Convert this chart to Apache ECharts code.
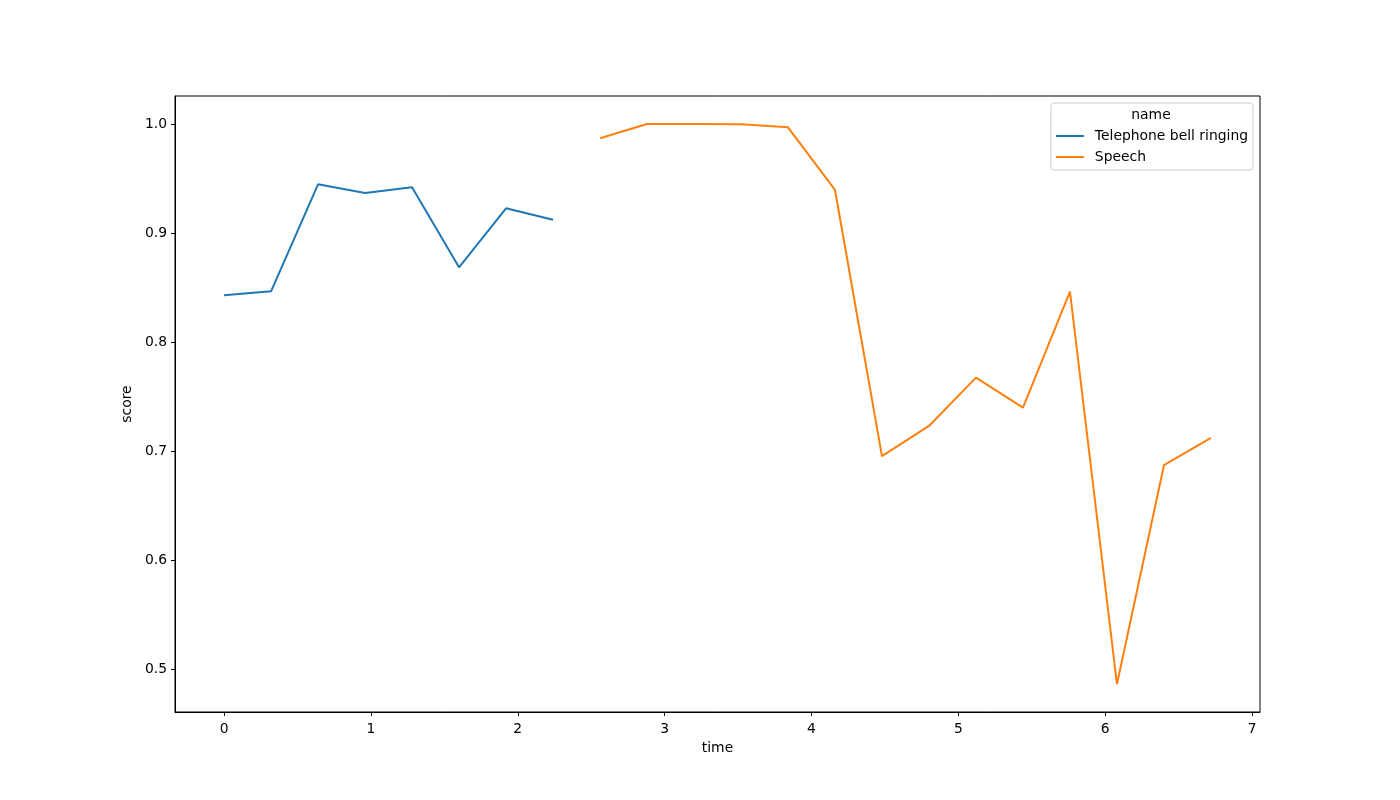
<!DOCTYPE html>
<html>
<head>
<meta charset="utf-8">
<script src="https://cdn.jsdelivr.net/npm/echarts@6/dist/echarts.min.js"></script>
<style>html,body{margin:0;padding:0;background:#fff}#c{width:1400px;height:800px}</style>
</head>
<body>
<div id="c"></div>
<script>
const bellTime = [0, 0.32, 0.64, 0.96, 1.28, 1.6, 1.92, 2.24];
const bellScore = [0.843, 0.8465, 0.9447, 0.9367, 0.942, 0.8685, 0.9227, 0.9122];
const speechTime = [2.56, 2.88, 3.2, 3.52, 3.84, 4.16, 4.48, 4.8, 5.12, 5.44, 5.76, 6.08, 6.4, 6.72];
const speechScore = [0.987, 1.0, 1.0, 0.9998, 0.997, 0.9395, 0.6954, 0.723, 0.7673, 0.7398, 0.8462, 0.4862, 0.687, 0.712];
const xTicks = [0, 1, 2, 3, 4, 5, 6, 7];
const yTicks = [0.5, 0.6, 0.7, 0.8, 0.9, 1.0];
const seriesNames = ['Telephone bell ringing', 'Speech'];

const font = 'DejaVu Sans';
const fs = 13.9;
const chart = echarts.init(document.getElementById('c'));
const pairs = (xs, ys) => xs.map((x, i) => [x, ys[i]]);
chart.setOption({
  animation: false,
  textStyle: {fontFamily: font},
  grid: {left: 175, right: 140, top: 96, bottom: 88, show: true, borderColor: '#000', borderWidth: 1, backgroundColor: 'transparent'},
  xAxis: {
    type: 'value', min: -0.334, max: 7.054,
    name: 'time', nameLocation: 'middle', nameGap: 29,
    nameTextStyle: {color: '#000', fontSize: fs, fontFamily: font},
    axisLine: {show: true, onZero: false, lineStyle: {color: '#000', width: 1}},
    axisTick: {show: true, length: 4, inside: false, customValues: xTicks, lineStyle: {color: '#000'}},
    axisLabel: {customValues: xTicks, color: '#000', fontSize: fs, fontFamily: font, margin: 10},
    splitLine: {show: false}
  },
  yAxis: {
    type: 'value', min: 0.4606, max: 1.0257,
    name: 'score', nameLocation: 'middle', nameGap: 38, nameRotate: 90,
    nameTextStyle: {color: '#000', fontSize: fs, fontFamily: font},
    axisLine: {show: true, onZero: false, lineStyle: {color: '#000', width: 1}},
    axisTick: {show: true, length: 4, inside: false, customValues: yTicks, lineStyle: {color: '#000'}},
    axisLabel: {customValues: yTicks, color: '#000', fontSize: fs, fontFamily: font, margin: 8, formatter: v => v.toFixed(1)},
    splitLine: {show: false}
  },
  legend: {
    orient: 'vertical', right: 147, top: 103,
    data: seriesNames,
    icon: 'rect', itemWidth: 28, itemHeight: 2, itemGap: 7,
    padding: [26, 5, 6, 5],
    backgroundColor: 'rgba(255,255,255,0.8)',
    borderColor: '#ccc', borderWidth: 1, borderRadius: 3,
    textStyle: {color: '#000', fontSize: fs, fontFamily: font, padding: [0, 0, 0, 6]},
    selectedMode: false
  },
  graphic: [{
    type: 'text', x: 1151, y: 115, z: 100,
    style: {text: 'name', fill: '#000', font: fs + 'px "DejaVu Sans"', align: 'center', verticalAlign: 'middle'}
  }],
  series: [
    {name: seriesNames[0], type: 'line', data: pairs(bellTime, bellScore), showSymbol: false, color: '#1f77b4', lineStyle: {width: 2}},
    {name: seriesNames[1], type: 'line', data: pairs(speechTime, speechScore), showSymbol: false, color: '#ff7f0e', lineStyle: {width: 2}}
  ]
});
</script>
</body>
</html>
